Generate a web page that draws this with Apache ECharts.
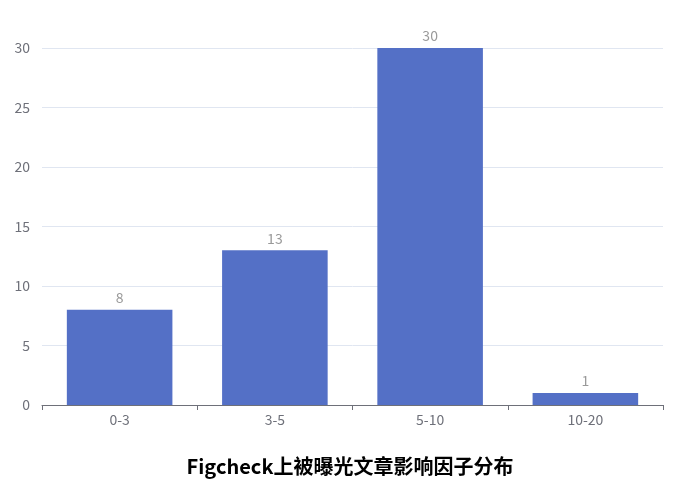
<!DOCTYPE html>
<html>
<head>
<meta charset="utf-8">
<script src="https://cdn.jsdelivr.net/npm/echarts@6/dist/echarts.min.js"></script>
<style>
  html, body { margin: 0; padding: 0; background: #fff; }
  #main { width: 700px; height: 495px; }
</style>
</head>
<body>
<div id="main"></div>
<script>
var categories = ['0-3', '3-5', '5-10', '10-20'];
var counts = [8, 13, 30, 1];
var yTicks = [0, 5, 10, 15, 20, 25, 30];

var myChart = echarts.init(document.getElementById('main'));
myChart.setOption({
    textStyle: { fontFamily: '"Noto Sans CJK SC", "Open Sans", sans-serif' },
    title: {
        text: 'Figcheck上被曝光文章影响因子分布',
        left: 'center',
        top: 451,
        textStyle: { fontSize: 20, fontWeight: 'bold', color: '#000' }
    },
    grid: { left: 42, right: 37, top: 48, bottom: 90 },
    xAxis: {
        type: 'category',
        data: categories,
        axisLine: { lineStyle: { color: '#6e7079' } },
        axisTick: { show: true, length: 5, lineStyle: { color: '#6e7079' } },
        axisLabel: { color: '#6e7079', fontSize: 14, margin: 8 }
    },
    yAxis: {
        type: 'value',
        min: yTicks[0],
        max: yTicks[yTicks.length - 1],
        interval: 5,
        axisLabel: { color: '#6e7079', fontSize: 14, margin: 12 },
        splitLine: { lineStyle: { color: '#e0e6f1' } }
    },
    series: [{
        name: 'Num',
        type: 'bar',
        data: counts,
        barWidth: '68%',
        itemStyle: { color: '#5470c6' },
        label: { show: true, position: 'top', color: '#999', fontSize: 14 }
    }]
});
</script>
</body>
</html>
